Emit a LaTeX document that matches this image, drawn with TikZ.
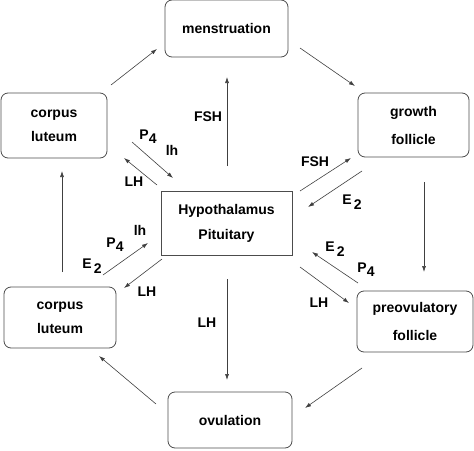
\documentclass[tikz,border=0pt]{standalone}
\usepackage{fontspec}
\setmainfont{Liberation Sans}
\usetikzlibrary{arrows.meta}
\begin{document}
\begin{tikzpicture}[x=1pt,y=-1pt,
  box/.style={draw=black!70, line width=0.8pt, rounded corners=7pt, inner sep=0pt, align=center,
    font=\fontsize{14}{25}\selectfont\bfseries},
  hbox/.style={draw=black!70, line width=0.8pt, inner sep=0pt, align=center,
    font=\fontsize{14}{25}\selectfont\bfseries},
  lbl/.style={inner sep=0pt, font=\fontsize{14}{14}\selectfont\bfseries},
  conn/.style={draw=black!75, line width=0.6pt, -{Latex[length=6pt,width=4pt]}},
]
\useasboundingbox (0,0) rectangle (474,450);

% boxes
\node[box, minimum width=123pt, minimum height=57pt] (men) at (226.5,28.5) {menstruation};
\node[box, minimum width=106pt, minimum height=65pt, font=\fontsize{14}{24}\selectfont\bfseries] (clt) at (54,125.5) {corpus\\luteum};
\node[box, minimum width=111pt, minimum height=64pt, font=\fontsize{14}{28}\selectfont\bfseries] (grw) at (413.5,125) {growth\\follicle};
\node[hbox, minimum width=131pt, minimum height=64pt] (hyp) at (226.5,223) {Hypothalamus\\Pituitary};
\node[box, minimum width=112pt, minimum height=61pt, font=\fontsize{14}{24}\selectfont\bfseries] (clb) at (60,317.5) {corpus\\luteum};
\node[box, minimum width=124pt, minimum height=56pt] (ovu) at (230,420) {ovulation};
\node[box, minimum width=116pt, minimum height=61pt, font=\fontsize{14}{28}\selectfont\bfseries] (pre) at (415,321.5) {preovulatory\\follicle};

% connector end points
\coordinate (a1s) at (111,85);  \coordinate (a1e) at (157,49);
\coordinate (a2s) at (300,48);  \coordinate (a2e) at (355,86);
\coordinate (a3s) at (424,182); \coordinate (a3e) at (424,272);
\coordinate (a4s) at (362,368); \coordinate (a4e) at (305,408);
\coordinate (a5s) at (156,404); \coordinate (a5e) at (99,356);
\coordinate (a6s) at (62,272);  \coordinate (a6e) at (62,171);
\coordinate (a7s) at (227,166); \coordinate (a7e) at (227,77);
\coordinate (a8s) at (227,279); \coordinate (a8e) at (227,380);
\coordinate (b1s) at (132,142); \coordinate (b1e) at (173,178);
\coordinate (b2s) at (157,185); \coordinate (b2e) at (124,158);
\coordinate (c1s) at (300,191); \coordinate (c1e) at (351,158);
\coordinate (c2s) at (362,171); \coordinate (c2e) at (308,207);
\coordinate (d1s) at (103,275); \coordinate (d1e) at (148,243);
\coordinate (d2s) at (162,259); \coordinate (d2e) at (124,288);
\coordinate (e1s) at (358,283); \coordinate (e1e) at (312,252);
\coordinate (e2s) at (300,267); \coordinate (e2e) at (349,303);

% cycle
\draw[conn] (a1s) -- (a1e);
\draw[conn] (a2s) -- (a2e);
\draw[conn] (a3s) -- (a3e);
\draw[conn] (a4s) -- (a4e);
\draw[conn] (a5s) -- (a5e);
\draw[conn] (a6s) -- (a6e);
% hormones
\draw[conn] (a7s) -- (a7e);
\draw[conn] (a8s) -- (a8e);
\draw[conn] (b1s) -- (b1e);
\draw[conn] (b2s) -- (b2e);
\draw[conn] (c1s) -- (c1e);
\draw[conn] (c2s) -- (c2e);
\draw[conn] (d1s) -- (d1e);
\draw[conn] (d2s) -- (d2e);
\draw[conn] (e1s) -- (e1e);
\draw[conn] (e2s) -- (e2e);

% labels
\node[lbl] (lfsh1) at (208,117) {FSH};
\node[lbl] (llh1) at (207,323) {LH};
\node[lbl] (ltlp) at (148,137) {P\raisebox{-4pt}{4}};
\node[lbl] (ltlih) at (172,150) {lh};
\node[lbl] (ltllh) at (134,182) {LH};
\node[lbl] (ltrfsh) at (315,162) {FSH};
\node[lbl] (ltre) at (352,202) {E\,\raisebox{-5pt}{2}};
\node[lbl] (lble) at (92,266) {E\,\raisebox{-5pt}{2}};
\node[lbl] (lblp) at (115,245) {P\raisebox{-4pt}{4}};
\node[lbl] (lblih) at (140,230) {lh};
\node[lbl] (lbllh) at (147,292) {LH};
\node[lbl] (lbre) at (335,249) {E\,\raisebox{-5pt}{2}};
\node[lbl] (lbrp) at (366,270) {P\raisebox{-4pt}{4}};
\node[lbl] (lbrlh) at (319,303) {LH};
\end{tikzpicture}
\end{document}
